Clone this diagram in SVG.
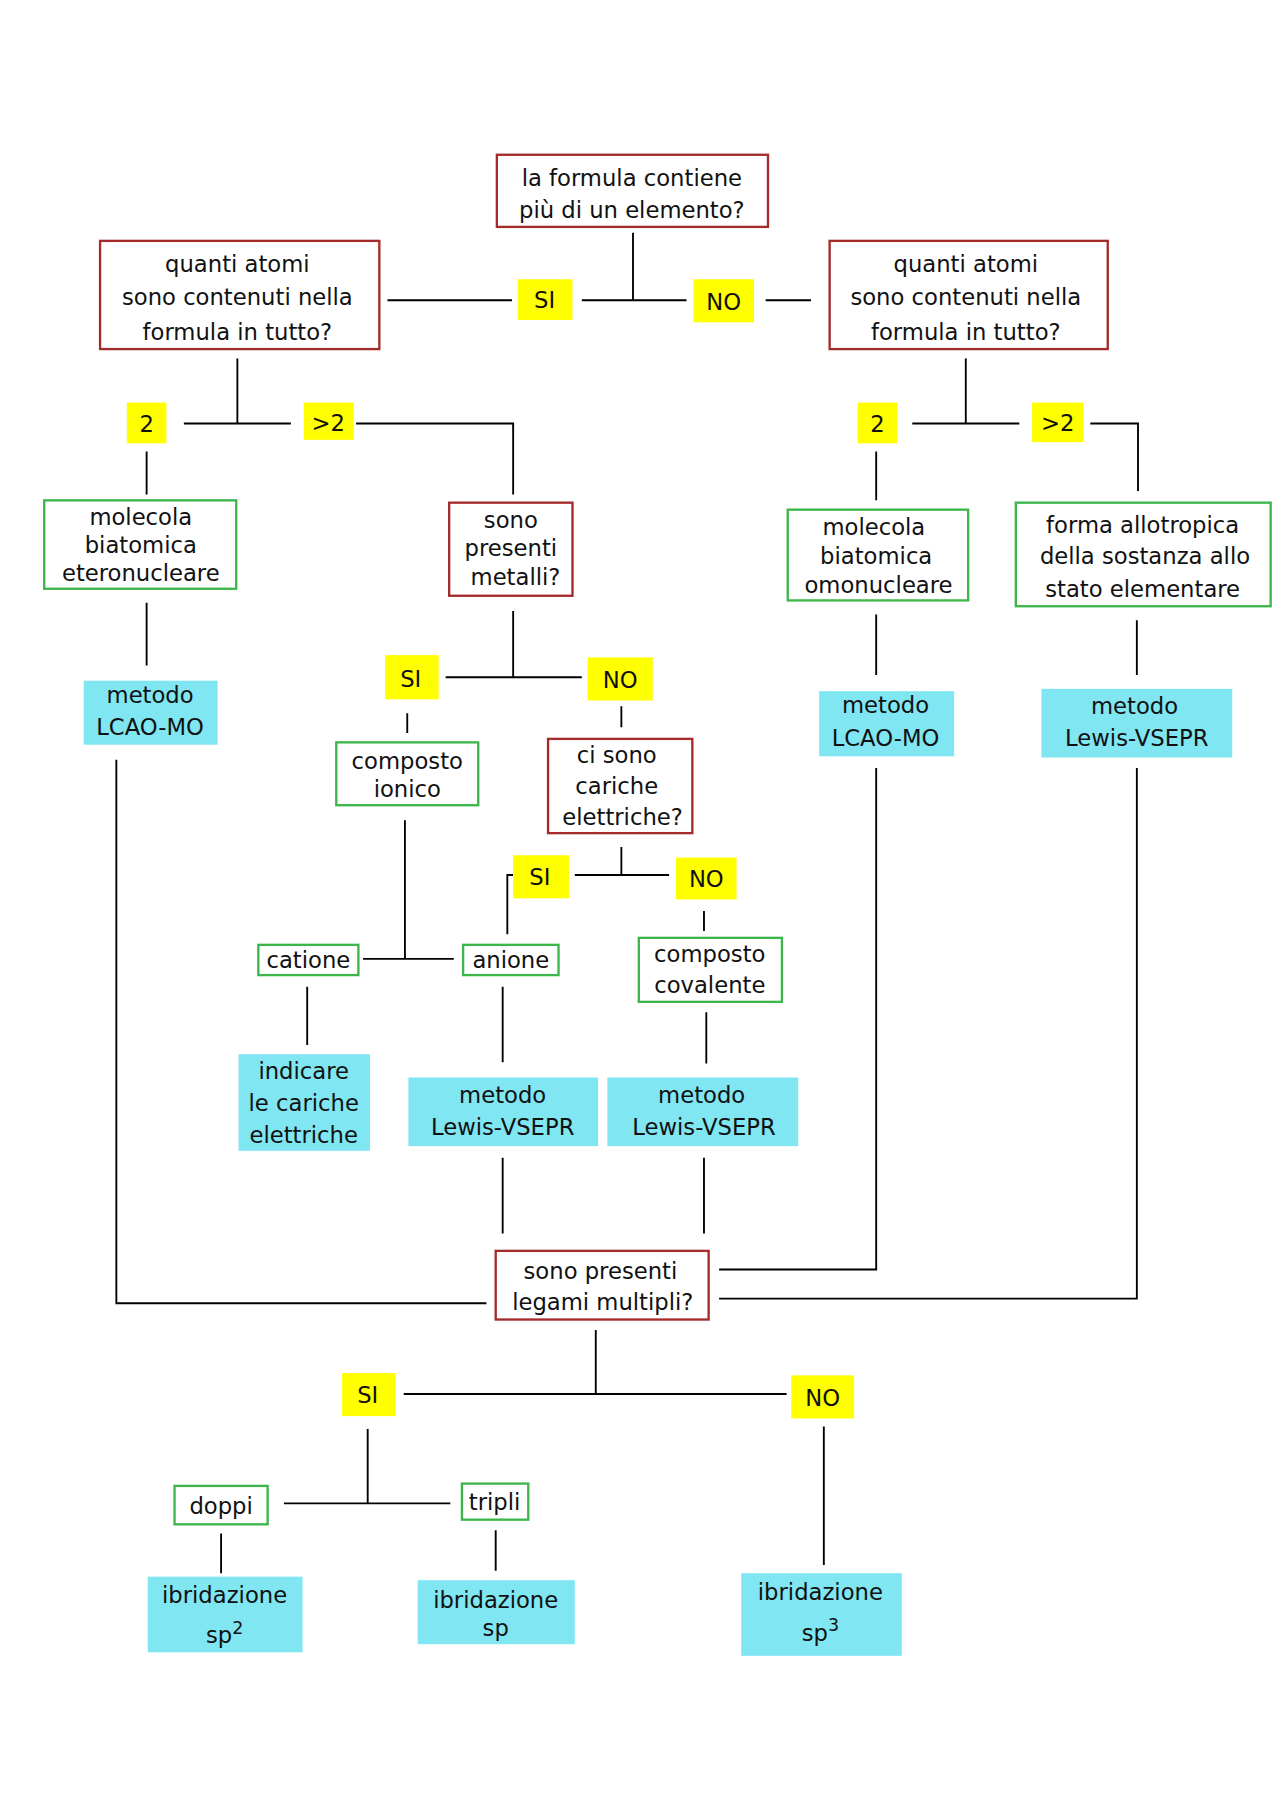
<svg xmlns="http://www.w3.org/2000/svg" width="1280" height="1811" viewBox="0 0 1280 1811">
<style>
.r{fill:#fff;stroke:#a52a2a;stroke-width:2}
.g{fill:#fff;stroke:#3cb54a;stroke-width:2}
.c{fill:#7fe6f2}
.y{fill:#ffff00}
text{font-family:"DejaVu Sans",sans-serif;font-size:19.5px;fill:#111;text-anchor:middle}
.l{stroke:#000;stroke-width:1.6;fill:none}
</style>
<rect width="1280" height="1811" fill="#fff"/>
<g transform="scale(1.1636)">
<g id="connectors">
<path class="l" d="M544 200V258M500 258H590M333 258H440M658 258H697"/>
<path class="l" d="M204 308V364M158 364H250M306 364H441V425M126 388V425M126 518V572"/>
<path class="l" d="M441 525V582M383 582H500M350 613V630M348 705V824M312 824H390M264 848V898"/>
<path class="l" d="M534 607V625M534 728V752M494 752H575M441 752H436V803M432 848V913M605 783V800M607 870V914"/>
<path class="l" d="M830 308V364M784 364H876M937 364H978V422M753 388V430M753 528V580M977 533V580"/>
<path class="l" d="M100 653V1120H418M432 995V1060M605 995V1060M753 660V1091H618M977 660V1116H618"/>
<path class="l" d="M512 1143V1198M347 1198H676M316 1228V1292M244 1292H387M190 1318V1352M426 1315V1350M708 1226V1345"/>
</g>
<g id="n_top"><rect class="r" x="427" y="133" width="233" height="62"/><text x="543" y="160">la formula contiene</text><text x="543" y="187">più di un elemento?</text></g>
<g id="n_si1"><rect class="y" x="445" y="240" width="47" height="35"/><text x="468" y="265">SI</text></g>
<g id="n_no1"><rect class="y" x="596" y="240" width="52" height="37"/><text x="622" y="266">NO</text></g>
<g id="n_left"><rect class="r" x="86" y="207" width="240" height="93"/><text x="204" y="234">quanti atomi</text><text x="204" y="262">sono contenuti nella</text><text x="204" y="292">formula in tutto?</text></g>
<g id="n_right"><rect class="r" x="713" y="207" width="239" height="93"/><text x="830" y="234">quanti atomi</text><text x="830" y="262">sono contenuti nella</text><text x="830" y="292">formula in tutto?</text></g>
<g id="n_2a"><rect class="y" x="109" y="346" width="34" height="35"/><text x="126" y="371">2</text></g>
<g id="n_g2a"><rect class="y" x="261" y="346" width="43" height="32"/><text x="282" y="370">&gt;2</text></g>
<g id="n_2b"><rect class="y" x="737" y="346" width="34" height="35"/><text x="754" y="371">2</text></g>
<g id="n_g2b"><rect class="y" x="887" y="346" width="44" height="34"/><text x="909" y="370">&gt;2</text></g>
<g id="n_etero"><rect class="g" x="38" y="430" width="165" height="76"/><text x="121" y="451">molecola</text><text x="121" y="475">biatomica</text><text x="121" y="499">eteronucleare</text></g>
<g id="n_lcao1"><rect class="c" x="72" y="585" width="115" height="55"/><text x="129" y="604">metodo</text><text x="129" y="632">LCAO-MO</text></g>
<g id="n_metalli"><rect class="r" x="386" y="432" width="106" height="80"/><text x="439" y="454">sono</text><text x="439" y="478">presenti</text><text x="443" y="503">metalli?</text></g>
<g id="n_si2"><rect class="y" x="331" y="563" width="46" height="38"/><text x="353" y="590">SI</text></g>
<g id="n_no2"><rect class="y" x="505" y="565" width="56" height="37"/><text x="533" y="591">NO</text></g>
<g id="n_ionico"><rect class="g" x="289" y="638" width="122" height="54"/><text x="350" y="661">composto</text><text x="350" y="685">ionico</text></g>
<g id="n_cariche"><rect class="r" x="471" y="635" width="124" height="81"/><text x="530" y="656">ci sono</text><text x="530" y="682">cariche</text><text x="535" y="709">elettriche?</text></g>
<g id="n_si3"><rect class="y" x="441" y="735" width="48" height="37"/><text x="464" y="761">SI</text></g>
<g id="n_no3"><rect class="y" x="581" y="737" width="52" height="36"/><text x="607" y="762">NO</text></g>
<g id="n_catione"><rect class="g" x="222" y="812" width="86" height="26"/><text x="265" y="832">catione</text></g>
<g id="n_anione"><rect class="g" x="398" y="812" width="82" height="26"/><text x="439" y="832">anione</text></g>
<g id="n_covalente"><rect class="g" x="549" y="806" width="123" height="55"/><text x="610" y="827">composto</text><text x="610" y="853">covalente</text></g>
<g id="n_indicare"><rect class="c" x="205" y="906" width="113" height="83"/><text x="261" y="927">indicare</text><text x="261" y="955">le cariche</text><text x="261" y="982">elettriche</text></g>
<g id="n_lewis1"><rect class="c" x="351" y="926" width="163" height="59"/><text x="432" y="948">metodo</text><text x="432" y="975">Lewis-VSEPR</text></g>
<g id="n_lewis2"><rect class="c" x="522" y="926" width="164" height="59"/><text x="603" y="948">metodo</text><text x="605" y="975">Lewis-VSEPR</text></g>
<g id="n_omo"><rect class="g" x="677" y="438" width="155" height="78"/><text x="751" y="460">molecola</text><text x="753" y="485">biatomica</text><text x="755" y="510">omonucleare</text></g>
<g id="n_lcao2"><rect class="c" x="704" y="594" width="116" height="56"/><text x="761" y="613">metodo</text><text x="761" y="641">LCAO-MO</text></g>
<g id="n_allo"><rect class="g" x="873" y="432" width="219" height="89"/><text x="982" y="458">forma allotropica</text><text x="984" y="485">della sostanza allo</text><text x="982" y="513">stato elementare</text></g>
<g id="n_lewis3"><rect class="c" x="895" y="592" width="164" height="59"/><text x="975" y="614">metodo</text><text x="977" y="641">Lewis-VSEPR</text></g>
<g id="n_multipli"><rect class="r" x="426" y="1075" width="183" height="59"/><text x="516" y="1099">sono presenti</text><text x="518" y="1126">legami multipli?</text></g>
<g id="n_si4"><rect class="y" x="294" y="1180" width="46" height="37"/><text x="316" y="1206">SI</text></g>
<g id="n_no4"><rect class="y" x="680" y="1182" width="54" height="37"/><text x="707" y="1208">NO</text></g>
<g id="n_doppi"><rect class="g" x="150" y="1277" width="80" height="33"/><text x="190" y="1301">doppi</text></g>
<g id="n_tripli"><rect class="g" x="397" y="1275" width="57" height="31"/><text x="425" y="1298">tripli</text></g>
<g id="n_sp2"><rect class="c" x="127" y="1355" width="133" height="65"/><text x="193" y="1378">ibridazione</text><text x="193" y="1412">sp<tspan font-size="15" dy="-8">2</tspan></text></g>
<g id="n_sp"><rect class="c" x="359" y="1358" width="135" height="55"/><text x="426" y="1382">ibridazione</text><text x="426" y="1406">sp</text></g>
<g id="n_sp3"><rect class="c" x="637" y="1352" width="138" height="71"/><text x="705" y="1375">ibridazione</text><text x="705" y="1410">sp<tspan font-size="15" dy="-8">3</tspan></text></g>
</g>
</svg>
